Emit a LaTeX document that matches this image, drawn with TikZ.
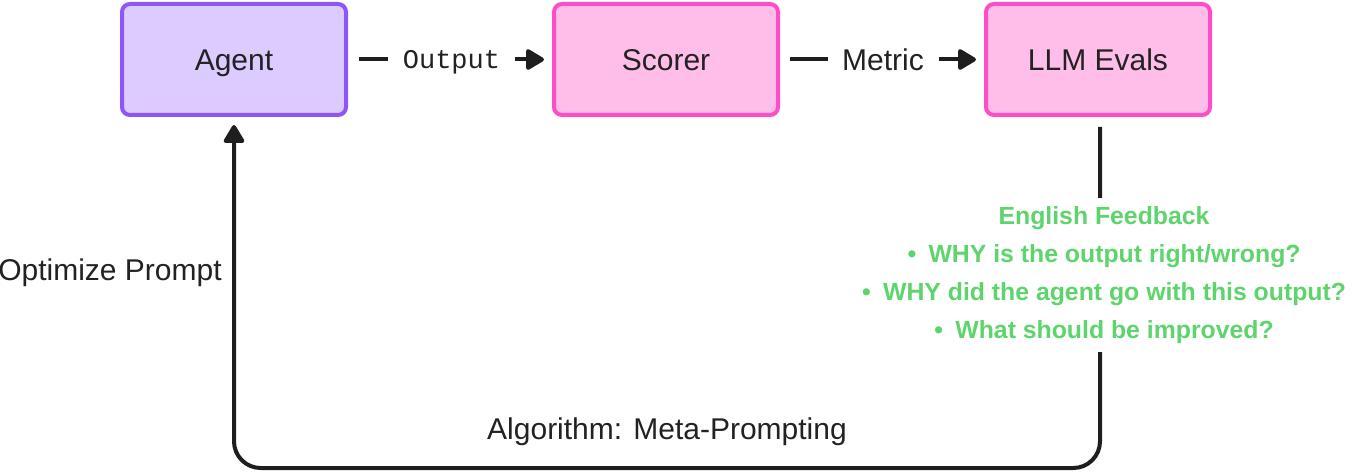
\documentclass[tikz,border=0pt]{standalone}
\usepackage{fontspec}
\setmainfont{Liberation Sans}
\setmonofont{Liberation Mono}
\usetikzlibrary{arrows.meta,calc}
\definecolor{ink}{HTML}{222222}
\definecolor{lineink}{HTML}{1E1E1E}
\definecolor{purpleedge}{HTML}{8F55F8}
\definecolor{purplefill}{HTML}{DCCBFE}
\definecolor{pinkedge}{HTML}{FF4DC6}
\definecolor{pinkfill}{HTML}{FFBDE9}
\definecolor{fbgreen}{HTML}{5ED46C}
\tikzset{
  box/.style={rectangle, rounded corners=6pt, line width=3pt, minimum width=168pt,
    minimum height=83.25pt, inner sep=0pt, text=ink, text height=16pt, text depth=0pt,
    font=\fontsize{22.5}{27}\selectfont},
  agentbox/.style={box, draw=purpleedge, fill=purplefill},
  pinkbox/.style={box, draw=pinkedge, fill=pinkfill},
  conn/.style={draw=lineink, line width=3pt,
    -{Triangle[length=15pt,width=17pt,round]}},
  lbl/.style={fill=white, text=ink, inner xsep=11pt, inner ysep=2pt, text height=16pt,
    text depth=0pt, font=\fontsize{22.5}{27}\selectfont},
  monolbl/.style={lbl, text height=14pt, font=\ttfamily\fontsize{20.25}{24}\selectfont},
  plaintext/.style={text=ink, inner sep=0pt, font=\fontsize{22.5}{27}\selectfont},
  feedback/.style={fill=white, text=fbgreen, align=center, inner xsep=4pt, inner ysep=6pt,
    font=\bfseries\fontsize{18.6}{28.5}\selectfont}
}
\begin{document}
\begin{tikzpicture}[x=0.75pt,y=-0.75pt]
\useasboundingbox (0,0) rectangle (1366,474);

\node[agentbox] (agent) at (234,59.5) {Agent};
\node[pinkbox] (scorer) at (666,59.5) {Scorer};
\node[pinkbox] (llm) at (1098,59.5) {LLM Evals};

\draw[conn] ($(agent.east)+(11,0)$) -- node[monolbl] (outlbl) {Output} ($(scorer.west)+(-8,0)$);
\draw[conn] ($(scorer.east)+(10,0)$) -- node[lbl] (metlbl) {Metric} ($(llm.west)+(-8,0)$);

\coordinate (br) at (1100,468);
\coordinate (bl) at (234,468);
\draw[conn, rounded corners=20pt] ($(llm.south)+(2,10)$) -- (br) -- (bl) -- ($(agent.south)+(0,8)$);

\node[feedback] (fb) at (1104,275) {English Feedback\\
\textbullet\enspace WHY is the output right/wrong?\\
\textbullet\enspace WHY did the agent go with this output?\\
\textbullet\enspace What should be improved?};

\node[plaintext] (algo) at (667,432) {Algorithm: Meta-Prompting};
\node[plaintext] (opt) at (110,273) {Optimize Prompt};
\end{tikzpicture}
\end{document}
